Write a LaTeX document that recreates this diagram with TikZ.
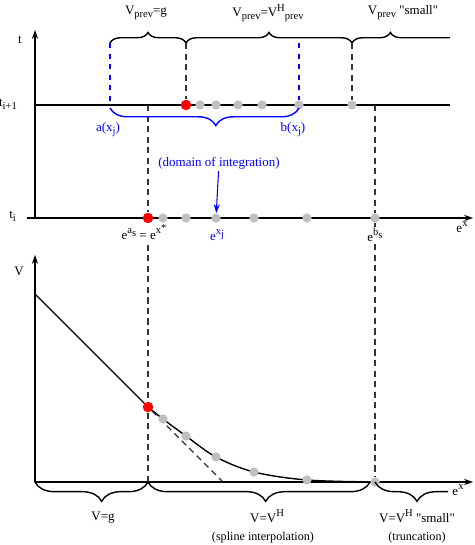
\documentclass[tikz,border=0pt]{standalone}
\usepackage{fontspec}
\setmainfont{Liberation Serif}
\usetikzlibrary{arrows.meta,decorations.pathreplacing,backgrounds}
\newcommand{\lw}[1]{\raisebox{-0.5ex}{\fontsize{6}{7}\selectfont #1}}
\newcommand{\hi}[1]{\raisebox{0.9ex}{\fontsize{6}{7}\selectfont #1}}
\tikzset{
  lbl/.style={font=\rmfamily\fontsize{7.4}{9}\selectfont, inner sep=1pt},
  note/.style={font=\rmfamily\fontsize{6.9}{8}\selectfont, inner sep=1pt},
  bluelbl/.style={lbl, text=blue},
  reddot/.style={circle, fill=red, inner sep=0pt, minimum size=2.1mm},
  greydot/.style={circle, fill=black!25, inner sep=0pt, minimum size=1.85mm},
  axis/.style={-{Stealth[length=5pt,width=3.5pt]}, line width=0.8pt},
  level/.style={line width=0.8pt},
  guide/.style={dash pattern=on 3.5pt off 2.5pt, line width=0.8pt, black!80},
  bguide/.style={dash pattern=on 3pt off 3pt, line width=0.7pt, blue},
  topbrace/.style={decorate, decoration={brace, amplitude=6pt}, line width=0.8pt},
  lowbrace/.style={decorate, decoration={brace, amplitude=11pt}, line width=0.8pt},
  arrow/.style={-{Stealth[length=5pt,width=3.5pt]}, line width=0.6pt, blue},
}

\begin{document}
\begin{tikzpicture}[x=0.02cm, y=-0.02cm]
  \useasboundingbox (0,0) rectangle (474,545);

  % grid points on t_{i+1}
  \node[reddot] (u0) at (186,105) {};
  \foreach \x [count=\k] in {200,216,238,262,299,352}
    \node[greydot] (u\k) at (\x,105) {};
  % grid points on t_i
  \node[reddot] (l0) at (148,218) {};
  \foreach \x [count=\k] in {163,186,216,254,307,375}
    \node[greydot] (l\k) at (\x,218) {};
  % value curve
  \node[reddot] (v0) at (148,407) {};
  \foreach \x/\y [count=\k] in {163/419,186/436,216/457,254/472,307/480,375/482}
    \node[greydot] (v\k) at (\x,\y) {};

  % axis ends and brace ends
  \coordinate (torig) at (35,218);
  \coordinate (ttop) at (35,30);
  \coordinate (tstart) at (27,218);
  \coordinate (tend) at (473,218);
  \coordinate (ustart) at (35,105);
  \coordinate (uend) at (450,105);
  \coordinate (vorig) at (35,482);
  \coordinate (vtop) at (35,255);
  \coordinate (vend) at (473,482);
  \coordinate (vstart) at (35,294);
  \coordinate (tang) at (222,481);
  \coordinate (pa) at (110,43);
  \coordinate (pb) at (186,43);
  \coordinate (pc) at (352,43);
  \coordinate (pz) at (480,43);
  \coordinate (qa) at (110,108);
  \coordinate (qb) at (299,108);
  \coordinate (ua) at (110,105);
  \coordinate (us) at (148,105);
  \coordinate (ub) at (375,105);
  \coordinate (va) at (148,482);
  \coordinate (vz) at (480,482);

  % labels
  \node[lbl] (tlab) at (20,40) {t};
  \node[lbl, anchor=east] (tup) at (19,104) {t\lw{i+1}};
  \node[lbl, anchor=east] (tlow) at (18,216) {t\lw{i}};
  \node[lbl] (vlab) at (19,271) {V};
  \node[lbl] (ex1) at (462,227) {e\hi{x}};
  \node[lbl] (ex2) at (458,490) {e\hi{x}};
  \node[lbl] (prev1) at (146,13) {V\lw{prev}=g};
  \node[lbl] (prev2) at (268,13) {V\lw{prev}=V\hi{H}\lw{prev}};
  \node[lbl] (prev3) at (403,13) {V\lw{prev} \textquotedbl small\textquotedbl};
  \node[bluelbl] (ax) at (108,130) {a(x\lw{j})};
  \node[bluelbl] (bx) at (293,130) {b(x\lw{j})};
  \node[bluelbl] (dom) at (219,163) {(domain of integration)};
  \node[lbl, fill=white] (eas) at (144,232) {e\hi{a\lw{s}} = e\hi{x\raisebox{0.4ex}{*}}};
  \node[bluelbl] (exj) at (217,235) {e\hi{x\lw{j}}};
  \node[lbl, fill=white] (ebs) at (375,235) {e\hi{b\lw{s}}};
  \node[lbl] (vg) at (103,518) {V=g};
  \node[lbl] (vh) at (267,516) {V=V\hi{H}};
  \node[note] (spl) at (263,538) {(spline interpolation)};
  \node[lbl] (vs) at (417,516) {V=V\hi{H} \textquotedbl small\textquotedbl};
  \node[note] (trc) at (417,538) {(truncation)};

  \begin{scope}[on background layer]
    % axes and time levels
    \draw[axis] (torig) -- (ttop);
    \draw[axis] (tstart) -- (tend);
    \draw[level] (ustart) -- (uend);
    \draw[axis] (vorig) -- (vtop);
    \draw[axis] (vorig) -- (vend);

    % value function
    \draw[level] (vstart) -- (v0.center);
    \draw[level] plot[smooth, tension=0.55] coordinates {(v0) (v1) (v2) (v3) (v4) (v5) (v6)};
    \draw[guide] (v0) -- (tang);

    % vertical guides
    \draw[guide] (pb) -- (u0);
    \draw[guide] (pc) -- (u6);
    \draw[bguide] (pa) -- (ua);
    \draw[bguide] (qb |- pa) -- (u5);
    \draw[guide] (us) -- (l0) -- (v0) -- (va);
    \draw[guide] (ub) -- (l6) -- (v6);
  \end{scope}

  % braces on top
  \draw[topbrace] (pa) -- (pb);
  \draw[topbrace] (pb) -- (pc);
  \begin{scope}
    \clip (340,0) rectangle (450,60);
    \draw[topbrace, decoration={aspect=0.3}] (pc) -- (pz);
  \end{scope}

  % domain of integration
  \draw[lowbrace, blue, decoration={amplitude=10pt, aspect=0.44}] (qb) -- (qa);
  \draw[arrow] (dom) -- (l3);

  % braces below
  \draw[lowbrace, decoration={aspect=0.41}] (va) -- (vorig);
  \draw[lowbrace, decoration={aspect=0.47}] (v6) -- (va);
  \begin{scope}
    \clip (360,470) rectangle (448,520);
    \draw[lowbrace, decoration={aspect=0.6}] (vz) -- (v6.center);
  \end{scope}
\end{tikzpicture}
\end{document}
